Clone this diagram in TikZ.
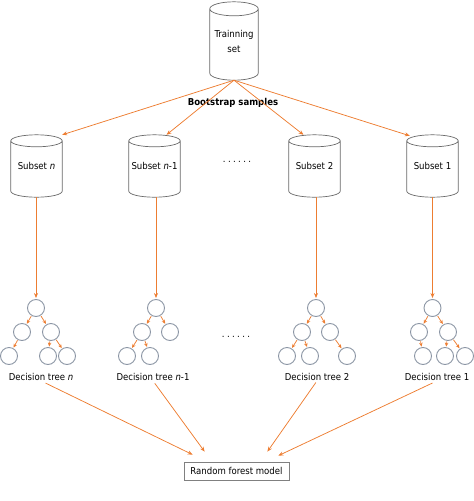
\documentclass[tikz,border=0pt]{standalone}
\usepackage{fontspec}
\setmainfont{DejaVu Sans Condensed}
\usetikzlibrary{arrows.meta,calc}
\definecolor{arrorange}{RGB}{237,125,49}
\definecolor{circgray}{RGB}{140,150,165}
\definecolor{cylgray}{RGB}{105,105,105}
\begin{document}
\begin{tikzpicture}[x=1pt,y=1pt,
  every node/.style={font=\fontsize{9.5pt}{11pt}\selectfont, inner sep=0pt},
  cylbox/.style={minimum width=#1, align=center},
  cylline/.style={draw=cylgray, line width=0.7pt},
  arr/.style={draw=arrorange, line width=0.75pt, -{Stealth[length=5pt,width=4pt]}},
  tnode/.style={circle, draw=circgray, line width=0.9pt, minimum size=17pt},
  tarr/.style={draw=arrorange, line width=0.75pt, -{Stealth[length=4pt,width=3.5pt]}, shorten <=0.5pt, shorten >=0.5pt},
  rfbox/.style={draw=gray, line width=0.7pt, minimum width=105pt, minimum height=18pt}
]
\useasboundingbox (0,0) rectangle (474,-501);

% cylinders
\node[cylbox=48pt, minimum height=78pt, font=\fontsize{9.5pt}{15pt}\selectfont] (tr) at (234,-41) {Trainning\\set};
\node[cylbox=51pt, minimum height=62pt] (sn) at (36.5,-166) {Subset \textit{n}};
\node[cylbox=51pt, minimum height=62pt] (sm) at (154.5,-166) {Subset \textit{n}-1};
\node[cylbox=51pt, minimum height=62pt] (s2) at (314.5,-166) {Subset 2};
\node[cylbox=51pt, minimum height=62pt] (s1) at (432.5,-166) {Subset 1};
\foreach \c/\ry in {tr/7,sn/6,sm/6,s2/6,s1/6}{
  \draw[cylline] let \p1=(\c.north west), \p2=(\c.south east) in
    (\x1,\y1-\ry pt) -- (\x1,\y2+\ry pt)
    arc[start angle=180,end angle=360,x radius={(\x2-\x1)/2},y radius=\ry pt]
    -- (\x2,\y1-\ry pt)
    ({(\x1+\x2)/2},\y1-\ry pt) ellipse[x radius={(\x2-\x1)/2},y radius=\ry pt];
}

\node[font=\bfseries\fontsize{9.5pt}{11pt}\selectfont] (bs) at (233,-103) {Bootstrap samples};
\node (dots1) at (237,-162) {\addfontfeature{LetterSpace=25}......};
\node (dots2) at (236,-337) {\addfontfeature{LetterSpace=25}......};

\draw[arr] (tr.south) -- (sn.north east);
\draw[arr] (tr.south) -- ($(sm.north)+(12,0)$);
\draw[arr] (tr.south) -- ($(s2.north)+(-11,0)$);
\draw[arr] (tr.south) -- ($(s1.north west)+(3,-1)$);

% tree n
\node[tnode] (a0) at (36,-308) {};
\node[tnode] (a1) at (22,-332) {};
\node[tnode] (a2) at (51,-332) {};
\node[tnode] (a3) at (9,-356) {};
\node[tnode] (a4) at (48,-356) {};
\node[tnode] (a5) at (67,-356) {};
% tree n-1
\node[tnode] (b0) at (156,-308) {};
\node[tnode] (b1) at (142,-332) {};
\node[tnode] (b2) at (170,-332) {};
\node[tnode] (b3) at (127,-356) {};
\node[tnode] (b4) at (150,-356) {};
% tree 2
\node[tnode] (c0) at (316,-308) {};
\node[tnode] (c1) at (302,-332) {};
\node[tnode] (c2) at (330,-332) {};
\node[tnode] (c3) at (287,-356) {};
\node[tnode] (c4) at (310,-356) {};
\node[tnode] (c5) at (347,-356) {};
% tree 1
\node[tnode] (d0) at (432.5,-308) {};
\node[tnode] (d1) at (419,-332) {};
\node[tnode] (d2) at (448,-332) {};
\node[tnode] (d3) at (423,-356) {};
\node[tnode] (d4) at (445,-356) {};
\node[tnode] (d5) at (465,-356) {};

\foreach \p/\q in {a0/a1,a0/a2,a1/a3,a2/a4,a2/a5,
                   b0/b1,b0/b2,b1/b3,b1/b4,
                   c0/c1,c0/c2,c1/c3,c1/c4,c2/c5,
                   d0/d1,d0/d2,d1/d3,d2/d4,d2/d5}
  \draw[tarr] (\p) -- (\q);

\draw[arr, shorten >=1pt] (a0 |- sn.south) -- (a0);
\draw[arr, shorten >=1pt] (b0 |- sm.south) -- (b0);
\draw[arr, shorten >=1pt] (c0 |- s2.south) -- (c0);
\draw[arr, shorten >=1pt] (d0 |- s1.south) -- (d0);

\node (ln) at (41,-377) {Decision tree \textit{n}};
\node (lm) at (153,-377) {Decision tree \textit{n}-1};
\node (l2) at (317,-377) {Decision tree 2};
\node (l1) at (437,-377) {Decision tree 1};

\node[rfbox] (rf) at (236.5,-471) {Random forest model};
\coordinate (e1) at ($(rf.north west)+(9,7)$);
\coordinate (e2) at ($(rf.north west)+(21,10)$);
\coordinate (e3) at ($(rf.north east)+(-22,10)$);
\coordinate (e4) at ($(rf.north east)+(-11,6)$);

\draw[arr, shorten <=5pt] (ln.south) -- (e1);
\draw[arr, shorten <=3pt] (lm.south) -- (e2);
\draw[arr, shorten <=2pt] (l2.south) -- (e3);
\draw[arr, shorten <=5pt] (l1.south) -- (e4);
\end{tikzpicture}
\end{document}
